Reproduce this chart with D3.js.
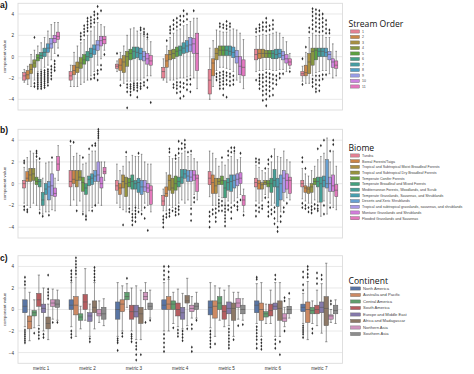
<!DOCTYPE html>
<html><head><meta charset="utf-8">
<script src="https://cdn.jsdelivr.net/npm/d3@7"></script>
<style>body{margin:0;background:#fff}svg{display:block}</style>
</head><body><svg id="c" width="474" height="374"></svg>
<script>
const metrics = ["metric 1","metric 2","metric 3","metric 4","metric 5","metric 6","metric 7"];
const yTicks = [-4,-2,0,2,4];

const streamOrders = ["1","2","3","4","5","6","7","8","9","10","11"];
const streamColors = ["#f77189","#df8633","#b89932","#90a531","#56b031","#35ae90","#37abb3","#3ca6d8","#8c93f4","#d674ee","#f666c6"];
// [metric][order] = [lowWhisker, q1, median, q3, highWhisker]
const streamStats = [
 [[-2.4,-2.2,-1.8,-1.5,-1.2],[-2.6,-2.1,-1.7,-1.3,-0.9],[-2.8,-1.6,-1.2,-0.7,0.2],[-2.2,-1.0,-0.6,-0.3,0.6],[-1.4,-0.4,-0.1,0.2,1.0],[-1.2,-0.2,0.1,0.4,1.3],[-1.0,0.0,0.4,0.8,1.8],[-0.8,0.4,0.8,1.2,2.4],[-0.3,0.8,1.2,1.7,3.0],[0.3,1.3,1.7,2.0,3.2],[0.8,1.6,1.9,2.3,3.2]],
 [[-2.8,-2.2,-1.8,-1.4,-0.8],[-2.8,-1.7,-1.3,-0.8,0.4],[-2.8,-1.5,-1.0,-0.5,1.0],[-2.6,-1.1,-0.6,-0.1,1.3],[-2.4,-0.7,-0.3,0.2,1.6],[-2.2,-0.4,0.0,0.5,2.0],[-1.8,-0.1,0.3,0.8,2.4],[-1.4,0.2,0.7,1.1,2.8],[-0.8,0.6,1.1,1.5,3.2],[-0.2,1.0,1.5,1.9,3.0],[0.6,1.2,1.6,1.9,2.8]],
 [[-1.4,-1.1,-0.9,-0.7,-0.4],[-2.2,-1.3,-0.8,-0.2,0.4],[-2.5,-1.5,-0.5,0.1,1.0],[-2.3,-0.9,0.0,0.5,2.0],[-2.3,-0.3,0.3,0.7,2.6],[-2.3,-0.2,0.5,0.9,2.7],[-2.2,-0.1,0.4,0.9,2.4],[-2.2,-0.3,0.3,0.8,2.2],[-2.0,-0.4,0.0,0.5,1.9],[-1.8,-0.7,-0.2,0.3,1.6],[-1.8,-0.8,-0.4,0.1,1.4]],
 [[-2.2,-2.0,-1.4,-1.0,-0.2],[-2.4,-1.0,-0.4,0.2,1.0],[-2.2,-0.3,0.2,0.6,1.8],[-2.2,-0.2,0.3,0.7,2.2],[-2.1,0.0,0.5,0.9,2.5],[-2.0,0.1,0.6,1.0,2.6],[-2.0,0.3,0.8,1.3,2.9],[-1.9,0.4,1.0,1.5,3.0],[-1.8,0.5,1.1,1.8,3.3],[-2.0,0.3,1.2,1.7,3.6],[-3.0,-1.3,0.3,2.2,3.6]],
 [[-4.0,-3.5,-2.2,-1.2,0.8],[-2.8,-1.8,-0.6,-0.2,1.5],[-1.3,-0.3,0.3,0.8,2.5],[-1.0,0.1,0.6,1.0,2.4],[-1.0,0.1,0.6,1.0,2.3],[-1.1,0.1,0.6,1.0,2.3],[-1.2,0.1,0.5,1.0,2.5],[-1.4,-0.1,0.4,0.9,2.6],[-2.2,-0.6,0.0,0.6,2.5],[-2.4,-1.7,-0.9,0.0,2.2],[-3.0,-1.8,-1.0,-0.3,1.6]],
 [[-1.4,-0.3,0.2,0.7,1.9],[-1.3,-0.2,0.3,0.7,2.0],[-1.3,-0.1,0.3,0.7,2.1],[-1.2,-0.1,0.3,0.6,2.0],[-1.2,-0.1,0.3,0.6,2.1],[-1.3,-0.2,0.3,0.6,2.2],[-1.3,-0.2,0.2,0.7,2.3],[-1.2,-0.1,0.3,0.7,2.2],[-1.2,-0.3,0.1,0.5,1.8],[-1.4,-0.6,-0.2,0.2,1.4],[-1.1,-0.8,-0.5,-0.2,0.3]],
 [[-2.3,-1.8,-1.6,-1.4,-0.9],[-2.5,-1.8,-1.5,-0.8,0.4],[-2.5,-1.6,-0.5,0.3,1.8],[-1.8,-0.8,0.5,0.8,2.2],[-1.5,-0.3,0.6,0.8,2.0],[-1.4,0.0,0.5,0.8,2.0],[-1.3,0.0,0.5,0.8,2.0],[-1.3,0.0,0.4,0.8,1.8],[-1.6,-0.3,0.2,0.5,1.8],[-2.0,-1.0,-0.5,-0.2,1.2],[-1.8,-1.1,-0.8,-0.4,0.5]]
];
const streamOutliers = [
 [[],[],[],[1.8,-2.5,-2.8],[-1.6,-1.8,-2.0,-2.2,-2.4,-2.6,-2.8,-3.0],[-1.4,-1.6,-1.8,-2.0,-2.2,-2.4,-2.6,-2.8,-3.0],[-1.3,-1.5,-1.7,-1.9,-2.1,-2.3,-2.5,-2.7,-2.9],[-1.2,-1.4,-1.6,-1.8,-2.0,-2.2,-2.4,-2.7],[-0.9,-1.2,-1.5,-1.8,-2.1],[-0.4,-0.7,-1.0,-1.3],[0.1]],
 [[],[],[],[1.6,1.9,2.2],[2.0,2.3,2.6,2.9],[2.4,2.7,3.0,3.3,3.6],[2.8,3.1,3.4,3.7,-2.1],[3.2,3.5,3.9,4.2,-1.7,-2.0],[3.6,4.0,4.7,-1.3,-1.6,-2.2],[4.3,-0.8,-1.2],[0.2]],
 [[0.3],[-2.7],[],[-2.6,-2.9,-3.3,-4.8],[-2.6,-2.8,-3.0,-3.3,-3.6],[-2.5,-2.7,-2.9,-3.1],[-2.5,-2.7,-2.9,-3.2,-3.8],[2.5,2.7,-2.5,-2.8,-3.0],[2.1,2.3,2.6,-2.4,-2.7],[1.8,2.1,-2.2,-2.9],[-4.3]],
 [[],[1.5],[2.2,2.5,2.8],[2.6,3.0,3.4,-2.6,-2.9],[2.8,3.2,3.6,-2.4,-2.7,-3.0,-3.4],[3.0,3.4,3.8,-2.4,-2.8,-3.3,-3.9],[3.3,3.8,4.3,-2.5,-2.9,-3.7],[3.5,4.0,-2.2,-2.6,-3.1],[-2.1,-2.6,-3.3],[4.3],[]],
 [[],[],[-1.6,-1.9,-2.2],[2.8,3.1,-1.5,-1.8,-2.1,-2.4,-2.7,-3.0],[2.7,3.0,-1.4,-1.7,-2.0,-2.3,-2.6,-3.0,-3.6],[2.6,2.9,3.3,-1.5,-1.8,-2.2,-2.6,-3.8],[2.8,3.1,-1.6,-1.9,-2.3,-2.7],[-1.8,-2.2,-2.6],[],[],[]],
 [[2.3,2.6,-2.2],[2.4,2.7,3.0,-1.7,-2.0,-2.3,-2.6,-3.0],[2.5,2.8,3.2,-1.7,-2.0,-2.4,-2.8,-3.2,-3.6,-4.1],[2.4,2.8,3.2,3.6,-1.5,-1.9,-2.3,-2.7,-3.1,-3.5,-4.0,-4.6],[2.5,2.9,-1.6,-2.0,-2.4,-2.8,-3.2,-3.7],[2.6,3.0,3.4,-1.7,-2.1,-2.5,-3.0,-3.6],[-1.8,-2.2,-2.6],[-1.6,-2.0],[-1.6],[],[-1.4]],
 [[-0.2,-2.6],[0.9],[2.3,2.7],[2.6,3.0,3.4,3.8,4.2,4.5,-2.1,-2.4,-2.8],[2.4,2.8,3.2,3.6,4.0,4.4,-1.8,-2.2,-2.6,-3.0,-3.3],[2.3,2.7,3.1,3.5,3.9,4.3,-1.8,-2.2,-2.7,-3.2],[2.4,2.8,3.2,3.6,4.0,-1.7,-2.1],[2.2,2.6,3.0,3.4,-1.7],[2.2,2.5],[],[]]
];

const biomes = ["Tundra","Boreal Forests/Taiga","Tropical and Subtropical Moist Broadleaf Forests","Tropical and Subtropical Dry Broadleaf Forests","Temperate Conifer Forests","Temperate Broadleaf and Mixed Forests","Mediterranean Forests, Woodlands, and Scrub","Temperate Grasslands, Savannas, and Shrublands","Deserts and Xeric Shrublands","Tropical and subtropical grasslands, savannas, and shrublands","Montane Grasslands and Shrublands","Flooded Grasslands and Savannas"];
const biomeColors = ["#f77189","#e3832f","#bf9632","#a4a031","#66ae31","#33b081","#36ada4","#38aabf","#55a1e4","#a38cf4","#dd6fea","#f567c1"];
const biomeStats = [
 [[-1.8,-0.4,0.0,0.3,1.5],[-2.0,0.2,0.5,1.1,2.4],[-2.2,0.2,0.8,1.4,3.0],[-1.8,0.3,0.9,1.4,2.8],[-2.0,-0.1,0.2,0.6,2.2],[-2.4,-0.3,0.2,0.4,2.0],[-2.8,-2.0,-1.5,-0.8,0.5],[-2.6,-1.0,-0.5,0.0,1.9],[-2.6,-1.5,-0.3,0.2,2.0],[-2.4,-1.1,-0.2,0.9,2.0],[-2.5,-1.2,-0.9,-0.4,0.5],[0.3,1.2,1.8,2.5,3.5]],
 [[-2.0,-0.3,0.2,1.2,3.5],[-1.5,0.0,0.4,1.2,2.5],[-2.0,-0.3,0.3,1.2,2.8],[-1.6,0.3,0.6,1.2,2.6],[-2.6,-0.7,0.1,0.6,1.8],[-2.9,-1.0,-0.4,0.0,1.9],[-2.5,-0.2,0.4,0.7,2.7],[-2.2,-0.1,0.5,0.9,3.0],[-2.0,0.2,0.7,1.2,3.0],[-1.8,0.2,0.8,2.0,4.0],[-2.0,-0.4,0.0,0.6,2.0],[0.3,0.9,1.1,1.5,2.0]],
 [[-1.8,-0.6,-0.2,0.3,1.8],[-2.2,-1.0,-0.4,0.0,1.2],[-2.4,-0.4,0.2,0.8,1.6],[-2.6,-1.2,0.0,0.6,2.5],[-2.0,-0.3,0.1,0.5,2.0],[-2.5,-0.5,0.2,0.8,2.6],[-2.0,-0.5,0.0,0.3,2.5],[-2.3,-0.8,0.1,0.5,2.5],[-2.5,-1.0,-0.3,0.3,2.7],[-1.8,-0.7,-0.3,0.3,2.0],[-2.0,-0.8,-0.4,0.0,1.8],[-2.6,-1.9,-0.6,-0.2,1.8]],
 [[-2.5,-2.0,-1.6,-1.1,-0.5],[-2.5,-1.2,-0.9,-0.3,1.0],[-2.0,-0.6,0.3,0.8,2.5],[-2.2,-0.9,-0.4,0.5,2.3],[-2.0,-0.6,0.0,0.7,2.0],[-1.8,-0.3,0.2,0.6,2.4],[-1.5,0.0,0.6,1.3,2.8],[-1.8,0.5,0.9,1.3,3.0],[-1.5,0.2,0.7,1.2,2.5],[-2.0,0.2,0.6,1.2,2.7],[-1.0,0.3,0.8,1.2,2.3],[-1.5,-0.7,0.5,0.8,2.0]],
 [[-1.2,-0.1,0.5,1.1,3.0],[-2.0,-0.9,0.1,0.8,2.8],[-2.0,-0.9,-0.2,0.5,2.3],[-1.2,-0.1,0.2,0.5,1.6],[-1.3,-0.1,0.3,0.7,2.0],[-1.8,-1.3,-0.4,0.3,1.7],[-1.6,-0.6,0.1,0.5,2.2],[-1.8,-0.7,0.2,0.8,2.5],[-1.6,-0.4,0.3,0.8,2.8],[-1.3,-0.2,0.4,0.9,2.2],[-1.0,0.0,0.5,1.0,2.4],[-2.6,-2.0,-1.5,-1.1,-0.5]],
 [[-1.6,-0.3,0.1,0.5,1.7],[-1.8,-0.5,0.0,0.3,1.5],[-1.6,-0.5,-0.1,0.1,1.2],[-1.0,-0.1,0.1,0.3,1.0],[-1.3,-0.3,0.0,0.3,1.4],[-2.0,-0.8,0.0,0.5,2.0],[-1.8,-0.3,0.3,1.3,3.2],[-3.5,-2.1,-0.3,0.5,2.5],[-2.6,-1.5,0.0,0.8,2.4],[-1.6,-0.8,0.5,1.2,3.0],[-1.3,-0.5,0.3,0.9,2.2],[-1.5,-0.9,0.3,0.6,2.0]],
 [[-1.4,-0.3,0.0,0.3,1.4],[-1.6,-0.8,-0.4,-0.2,0.9],[-1.8,-0.9,-0.5,-0.3,0.7],[-1.8,-0.8,-0.3,0.0,1.2],[-1.5,-0.1,0.2,0.5,1.6],[-1.7,-0.3,0.2,0.6,2.2],[-3.0,-1.7,0.0,0.6,2.5],[-1.6,-0.3,0.3,0.7,2.8],[-2.8,-0.4,0.0,2.2,4.2],[-1.8,-0.7,0.0,0.6,2.0],[-2.2,-0.7,-0.2,0.8,3.0],[-2.4,-1.2,-0.6,-0.1,1.6]]
];
const biomeOutliers = [
 [[1.9,2.1,-2.1,-2.4],[-2.4,-2.6],[],[],[2.5,2.8,3.0],[2.3,-2.7],[-3.0],[],[-2.9],[2.4],[],[]],
 [[3.9],[3.8],[-2.5],[],[2.4,-2.8],[-3.0,-3.3],[3.2],[3.5,-2.5],[3.5,3.7,-2.0],[4.2,4.4,4.6,4.8,5.0],[],[]],
 [[],[],[-3.8],[2.9],[-2.3,-2.6],[-2.8,-3.1,-3.4,-3.8],[-2.2,-2.5,-2.8,-3.1,-3.5],[2.8,-2.6],[-2.8],[-2.2,-3.2],[-4.3],[]],
 [[-3.0,-3.3,-3.6,-4.0],[-2.8,-3.1],[2.9,3.2,-2.4,-2.7,-3.0],[-2.5],[2.3,2.6,-2.3,-2.6,-2.9],[2.8,3.2,3.9,-2.1,-2.4,-2.8],[3.2,3.7],[3.3,3.6,4.0],[2.9],[3.0,-2.3,-2.8,-3.4],[-1.3,-1.7],[]],
 [[-2.6,-3.0,-3.5,-4.0],[-2.4,-2.8],[-2.3,-2.7,-3.1,-3.5],[-1.5,-1.8,-2.1,-2.5],[2.4,-1.6,-2.0,-2.5],[-2.0,-2.3,-2.6,-2.9,-3.2,-3.5,-3.9],[2.6,3.0,-2.0,-2.4],[2.9,3.3,-2.2,-2.6,-3.2],[3.0,3.3,-2.0],[-1.7,-2.1,-2.4],[2.8,-1.5],[-2.9]],
 [[2.0,2.3,-2.0,-2.5,-3.0],[1.9,2.2,-2.2,-2.6],[-2.0,-2.3],[1.4,-1.3],[1.8,2.2,-1.7,-2.1,-2.6,-3.0],[2.5,-2.4,-2.8],[-2.2,-2.6,-3.2,-3.7],[-4.0,-4.4],[-3.0,-3.5],[-2.2,-2.6],[-1.8],[]],
 [[2.0,2.4,-1.8,-2.2],[1.4,-2.0,-2.3],[-2.2,-2.6],[-2.1,-2.4,-2.7],[-1.9,-2.3],[3.2,-2.0,-2.3,-2.5],[3.5],[4.0,-2.0,-2.8],[],[3.0,-2.2],[3.6,4.0],[]]
];

const continents = ["North America","Australia and Pacific","Central America","South America","Europe and Middle East","Africa and Madagascar","Northern Asia","Southern Asia"];
const continentColors = ["#4c72b0","#dd8452","#55a868","#c44e52","#8172b3","#937860","#da8bc3","#8c8c8c"];
const continentStats = [
 [[-1.6,-0.3,0.3,0.9,2.0],[-2.9,-1.8,-1.1,-0.6,1.6],[-1.7,-0.6,-0.3,-0.1,0.9],[-1.5,0.3,0.9,1.5,3.2],[-2.0,-0.3,0.1,0.5,2.0],[-2.8,-1.8,-1.3,-0.7,0.5],[-0.9,0.3,0.6,0.9,1.9],[-1.0,0.2,0.5,0.9,1.8]],
 [[-1.6,0.0,0.4,0.9,2.5],[-2.5,-0.5,0.4,1.2,3.0],[-1.8,-1.0,-0.7,-0.4,0.3],[-1.0,0.0,0.7,1.4,3.8],[-2.5,-1.1,-0.6,-0.3,0.5],[-1.8,-0.3,0.2,0.8,2.5],[-1.2,-0.6,-0.4,0.0,0.8],[-1.5,-0.9,-0.4,0.2,1.0]],
 [[-2.5,-0.9,0.0,0.7,2.5],[-2.0,-0.2,0.5,0.9,2.2],[0.2,0.9,1.2,1.6,2.4],[-2.0,-0.9,-0.2,0.4,2.0],[-2.8,-0.7,-0.2,0.4,2.2],[-2.8,-1.3,-0.4,0.2,1.8],[0.0,0.9,1.2,1.6,2.5],[-0.8,0.0,0.3,0.6,1.8]],
 [[-2.0,0.0,0.4,0.9,2.5],[-2.0,0.0,0.5,1.2,2.8],[-1.3,0.0,0.5,0.8,1.6],[-1.6,-0.6,0.0,0.6,1.9],[-1.8,-0.9,-0.3,0.2,1.5],[-1.5,0.6,0.8,1.3,2.9],[-0.8,-0.2,0.1,0.4,1.2],[-0.8,0.0,0.3,0.6,1.6]],
 [[-1.7,-0.5,0.2,0.8,2.5],[-2.5,-0.8,0.3,0.8,2.2],[-1.0,0.0,0.6,1.2,2.0],[-1.6,-0.9,-0.2,0.4,1.8],[-1.5,-0.4,0.1,0.7,2.2],[-2.5,-1.0,0.1,0.6,1.6],[-0.9,0.2,0.6,1.0,1.6],[-1.0,-0.4,0.0,0.4,1.0]],
 [[-1.3,-0.3,0.4,0.8,2.4],[-2.5,-1.0,0.0,0.6,2.5],[-1.3,-0.7,-0.4,-0.2,0.5],[-1.3,-0.6,-0.1,0.5,1.8],[-2.5,0.0,0.3,0.6,2.5],[-2.5,-1.0,0.1,0.8,2.5],[-1.6,-1.1,-0.8,-0.4,0.2],[-0.8,-0.4,0.0,0.3,1.0]],
 [[-1.3,-0.2,0.2,0.5,1.5],[-2.8,-1.2,0.0,0.7,2.6],[-1.3,-0.4,-0.1,0.2,0.8],[-1.5,-0.4,0.0,0.4,1.8],[-2.2,-0.3,0.2,0.7,2.4],[-3.0,-1.5,0.1,1.2,4.3],[-1.2,-0.9,-0.6,-0.5,0.0],[-1.3,-0.4,-0.1,0.4,0.9]]
];
const continentOutliers = [
 [[2.3,2.6,3.0,-1.9,-2.1,-2.3,-2.5,-2.7,-2.9,-3.1],[],[-2.2],[-1.8,-2.1,-2.4,-2.7],[-2.3,-2.6],[1.0,1.3,1.6,1.9,3.2],[-1.2],[-1.2]],
 [[2.7,3.0,3.3,3.6,-2.0,-2.3,-2.6],[3.3,3.6,3.9,4.2,4.5,4.8],[],[],[-2.7,-3.0],[2.7,3.0,3.3,3.6,3.9],[],[]],
 [[-2.7,-2.9,-3.1,-3.8],[-2.2,-2.5],[2.9],[-2.3,-2.5,-2.7,-3.0],[-3.1,-3.4,-3.7,-4.2,-4.7],[-4.2],[-1.2],[-1.0]],
 [[2.8,3.2,3.6,4.0,-2.3,-2.7,-3.1,-3.5,-3.9],[3.0,3.5,4.0],[-1.7],[-1.9,-2.2,-2.5],[-2.0,-2.3,-2.6,-2.9],[-1.8],[-1.4,-1.8,-3.5,-3.9],[-1.0]],
 [[-2.0,-2.3,-2.6,-2.9,-3.2,-3.5],[-3.2],[],[],[-1.8,-2.1,-2.4,-2.7,-3.0,-3.3,-3.6],[-2.8],[-1.5],[-1.4]],
 [[2.8,3.0,-1.6,-1.9,-2.2,-2.5,-2.8,-3.2,-3.6],[-2.8,-3.1,-3.4,-3.7],[],[],[2.8,3.2,-2.8,-3.2,-3.6],[-3.0,-4.2],[0.8,1.1,-2.0],[1.5]],
 [[1.8,2.3,3.0,3.5,-1.5,-1.7,-1.9,-2.1,-2.3,-2.6],[3.0,3.3,3.7,4.0],[-1.8,-2.2],[2.4,2.9,3.4],[2.8,3.2],[],[0.5,0.8],[]]
];

const svg = d3.select("#c");
const FX0 = 18, FX1 = 342.5;
const LINE = "#575757";
function desat(c){ const h = d3.hsl(c); h.s *= 0.75; return h.formatHex(); }

function drawPanel(p){
  const g = svg.append("g");
  const x = d3.scaleBand().domain(metrics).range([FX0, FX1]);
  const y = d3.scaleLinear().domain([-5,5]).range([p.bottom, p.top]);
  const hx = d3.scaleBand().domain(p.hues).range([0, x.bandwidth()*0.8]);
  const bw = hx.bandwidth()*0.98;

  g.selectAll("line.grid").data(yTicks).join("line").attr("class","grid")
    .attr("x1",FX0).attr("x2",FX1).attr("y1",d=>y(d)).attr("y2",d=>y(d))
    .attr("stroke","#e6e6e6").attr("stroke-width",0.9);
  g.append("rect").attr("x",FX0).attr("y",p.top).attr("width",FX1-FX0).attr("height",p.bottom-p.top)
    .attr("fill","none").attr("stroke","#dcdcdc").attr("stroke-width",0.9);

  const ay = g.append("g").attr("transform",`translate(${FX0},0)`)
    .call(d3.axisLeft(y).tickValues(yTicks).tickSize(0).tickPadding(4).tickFormat(d=>d<0?"\u2212"+Math.abs(d):d));
  ay.select(".domain").remove();
  ay.selectAll("text").attr("font-size",4.6).attr("font-family","Liberation Sans, Arial, sans-serif").attr("fill","#333");

  g.append("text").attr("transform",`translate(5.5,${(p.top+p.bottom)/2}) rotate(-90)`)
    .attr("text-anchor","middle").attr("font-size",4.4).attr("fill","#333")
    .attr("font-family","Liberation Sans, Arial, sans-serif").text("component value");

  if(p.showX){
    const ax = g.append("g").attr("transform",`translate(0,${p.bottom})`)
      .call(d3.axisBottom(x).tickSize(0).tickPadding(3.5));
    ax.select(".domain").remove();
    ax.selectAll("text").attr("font-size",4.6).attr("font-family","Liberation Sans, Arial, sans-serif").attr("fill","#333");
  }

  const boxes = [];
  metrics.forEach((m,i)=>p.hues.forEach((h,j)=>{
    boxes.push({m,h,j,s:p.stats[i][j],o:p.outliers[i][j],cx:x(m)+x.bandwidth()*0.1+hx(h)+hx.bandwidth()/2});
  }));
  const bg = g.selectAll("g.box").data(boxes).join("g").attr("class","box");
  bg.append("line").attr("x1",d=>d.cx).attr("x2",d=>d.cx).attr("y1",d=>y(d.s[0])).attr("y2",d=>y(d.s[1])).attr("stroke",LINE).attr("stroke-width",0.6);
  bg.append("line").attr("x1",d=>d.cx).attr("x2",d=>d.cx).attr("y1",d=>y(d.s[3])).attr("y2",d=>y(d.s[4])).attr("stroke",LINE).attr("stroke-width",0.6);
  bg.append("line").attr("x1",d=>d.cx-bw/4).attr("x2",d=>d.cx+bw/4).attr("y1",d=>y(d.s[0])).attr("y2",d=>y(d.s[0])).attr("stroke",LINE).attr("stroke-width",0.6);
  bg.append("line").attr("x1",d=>d.cx-bw/4).attr("x2",d=>d.cx+bw/4).attr("y1",d=>y(d.s[4])).attr("y2",d=>y(d.s[4])).attr("stroke",LINE).attr("stroke-width",0.6);
  bg.append("rect").attr("x",d=>d.cx-bw/2).attr("width",bw).attr("y",d=>y(d.s[3])).attr("height",d=>y(d.s[1])-y(d.s[3]))
    .attr("fill",d=>desat(p.colors[d.j])).attr("stroke",LINE).attr("stroke-width",0.5);
  bg.append("line").attr("x1",d=>d.cx-bw/2).attr("x2",d=>d.cx+bw/2).attr("y1",d=>y(d.s[2])).attr("y2",d=>y(d.s[2])).attr("stroke",LINE).attr("stroke-width",0.6);
  const sym = d3.symbol().type(d3.symbolDiamond).size(3.2);
  bg.selectAll("path.fl").data(d=>d.o.map(v=>({v,cx:d.cx}))).join("path").attr("class","fl")
    .attr("d",sym).attr("transform",d=>`translate(${d.cx},${y(d.v)})`).attr("fill","#2e2e2e");

  // legend
  const lg = svg.append("g");
  lg.append("text").attr("x",348.5).attr("y",p.titleY).attr("font-size",p.titleSize)
    .attr("font-family","Open Sans, Liberation Sans, sans-serif").attr("fill","#111").text(p.title);
  const rows = lg.selectAll("g.row").data(p.hues).join("g").attr("class","row")
    .attr("transform",(d,i)=>`translate(0,${p.legY + i*p.legStep})`);
  rows.append("rect").attr("x",350.5).attr("y",-1.6).attr("width",p.swW).attr("height",3.2)
    .attr("fill",(d,i)=>desat(p.colors[i])).attr("stroke",LINE).attr("stroke-width",0.35);
  rows.append("text").attr("x",350.5+p.swW+2.5).attr("y",1.3).attr("font-size",p.legFont)
    .attr("font-family","Liberation Sans, Arial, sans-serif").attr("fill","#444").text(d=>d);

  svg.append("text").attr("x",0).attr("y",p.labelY).attr("font-size",8.5).attr("font-weight","bold")
    .attr("font-family","Liberation Sans, Arial, sans-serif").attr("fill","#111").text(p.label);
}

drawPanel({top:3.3,bottom:110,hues:streamOrders,colors:streamColors,stats:streamStats,outliers:streamOutliers,
  title:"Stream Order",titleY:27,titleSize:8.6,legY:31.5,legStep:5.5,swW:9,legFont:3.5,label:"a)",labelY:8,showX:false});
drawPanel({top:129.3,bottom:238,hues:biomes,colors:biomeColors,stats:biomeStats,outliers:biomeOutliers,
  title:"Biome",titleY:150.5,titleSize:8.6,legY:155.5,legStep:5.7,swW:9,legFont:3.6,label:"b)",labelY:133,showX:false});
drawPanel({top:255.7,bottom:363.3,hues:continents,colors:continentColors,stats:continentStats,outliers:continentOutliers,
  title:"Continent",titleY:284,titleSize:8.6,legY:288.5,legStep:6.5,swW:10,legFont:4.1,label:"c)",labelY:261,showX:true});
</script></body></html>
